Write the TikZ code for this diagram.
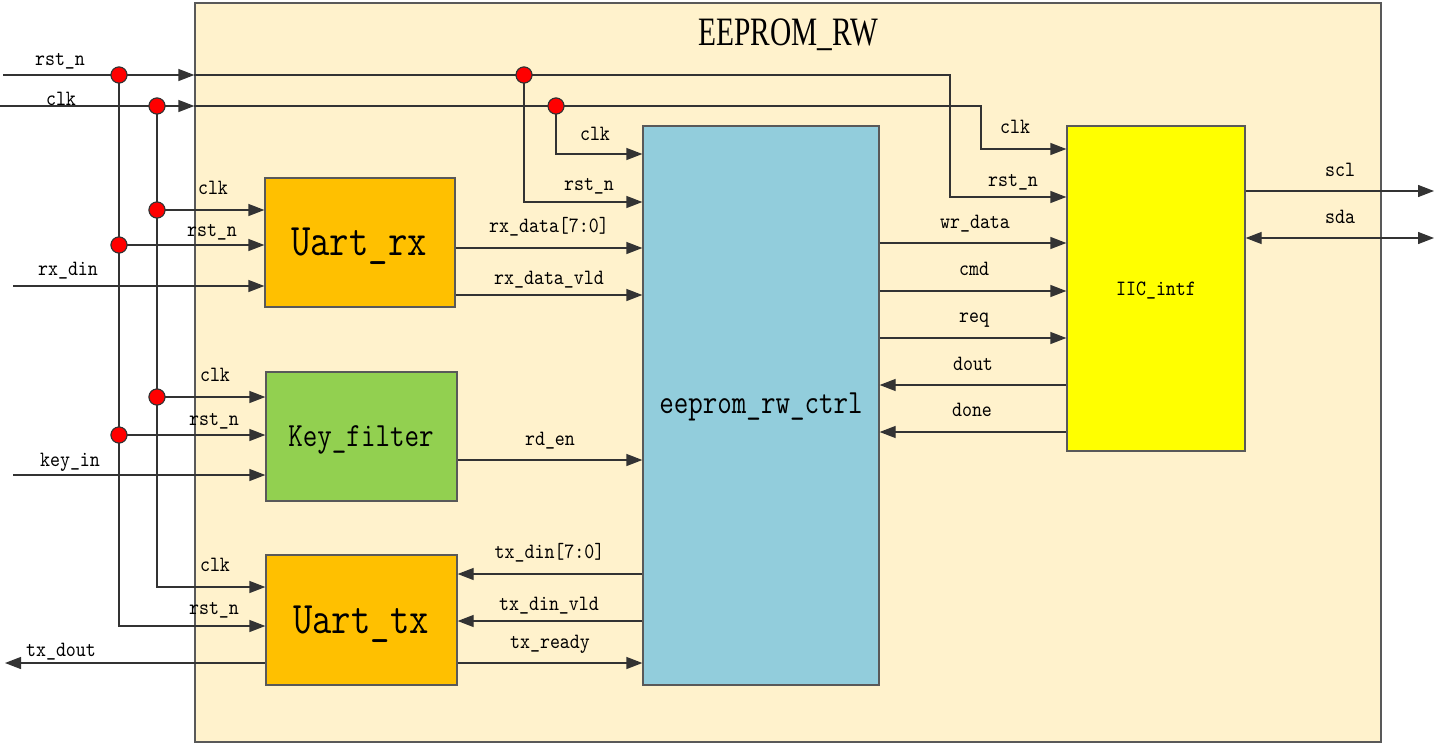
\documentclass[tikz,border=0pt]{standalone}
\usepackage{fontspec}
\newfontfamily\seriff{Liberation Serif}
\usetikzlibrary{arrows.meta}
\newcommand\vst[1]{\scalebox{1}[1.15]{#1}}
\newcommand\vsb[1]{\scalebox{1}[1.2]{#1}}
\definecolor{bgbox}{HTML}{FFF2CC}
\definecolor{uartc}{HTML}{FFC000}
\definecolor{keyc}{HTML}{92D050}
\definecolor{ctrlc}{HTML}{92CDDC}
\definecolor{iicc}{HTML}{FFFF00}
\definecolor{wire}{HTML}{333333}
\begin{document}
\begin{tikzpicture}[x=0.5pt,y=-0.5pt,
 wirest/.style={draw=wire,line width=0.65pt},
 arr/.style={wirest,-{Triangle[length=8pt,width=6pt]}},
 darr/.style={wirest,{Triangle[length=8pt,width=6pt]}-{Triangle[length=8pt,width=6pt]}},
 block/.style={draw=black!65,line width=0.65pt,inner sep=0pt,anchor=center},
 dot/.style={circle,fill=red,draw=black!80,line width=0.5pt,minimum size=8pt,inner sep=0pt},
 lbl/.style={anchor=base,inner sep=0pt,font=\ttfamily\fontsize{9.5pt}{11pt}\selectfont},
 big/.style={anchor=base,inner sep=0pt,font=\ttfamily\fontsize{18.8pt}{21pt}\selectfont},
 mid/.style={anchor=base,inner sep=0pt,font=\ttfamily\fontsize{14.1pt}{16pt}\selectfont},
]
\useasboundingbox (0,0) rectangle (1434,744);

% outer box
\node[block,fill=bgbox,minimum width=593pt,minimum height=369.5pt] (outer) at (788,372.5) {};
\node[anchor=base,inner sep=0pt,font=\seriff\fontsize{14.4pt}{16pt}\selectfont] (title) at (788,45) {\scalebox{1.02}[1.4]{EEPROM\_RW}};

% blocks
\node[block,fill=uartc,minimum width=95pt,minimum height=64.5pt] (urx) at (360,242.5) {};
\node[block,fill=keyc,minimum width=95.5pt,minimum height=64.5pt] (kf) at (361.5,436.5) {};
\node[block,fill=uartc,minimum width=95.5pt,minimum height=65pt] (utx) at (361.5,620) {};
\node[block,fill=ctrlc,minimum width=118pt,minimum height=279.5pt] (ctrl) at (761,405.5) {};
\node[block,fill=iicc,minimum width=89pt,minimum height=162.5pt] (iic) at (1156,288.5) {};

% coordinates
\coordinate (inrst) at (3,75);
\coordinate (inclk) at (0,106);
\coordinate (rxdin) at (13,286);
\coordinate (keyin) at (13,475);
\coordinate (txdout) at (5,663);
\coordinate (bendrst) at (950,75);
\coordinate (bendclk) at (981,106);
\coordinate (sclout) at (1434,191);
\coordinate (sdaout) at (1434,238);

% dots
\node[dot] (d1) at (119,75) {};
\node[dot] (d2) at (157,106) {};
\node[dot] (d3) at (524,75) {};
\node[dot] (d4) at (556,106) {};
\node[dot] (d5) at (157,210) {};
\node[dot] (d6) at (119,245) {};
\node[dot] (d7) at (157,397) {};
\node[dot] (d8) at (119,435) {};

% global rst / clk
\draw[arr] (inrst) -- (outer.west |- inrst);
\draw[arr] (outer.west |- inrst) -- (bendrst) |- (iic.west |- 0,197);
\draw[arr] (inclk) -- (outer.west |- inclk);
\draw[arr] (outer.west |- inclk) -- (bendclk) |- (iic.west |- 0,149);
\draw[arr] (d3.center) |- (ctrl.west |- 0,202);
\draw[arr] (d4.center) |- (ctrl.west |- 0,154);
\draw[arr] (d1.center) |- (utx.west |- 0,626);
\draw[arr] (d2.center) |- (utx.west |- 0,587);

% Uart_rx
\draw[arr] (d5.center) -- (urx.west |- d5);
\draw[arr] (d6.center) -- (urx.west |- d6);
\draw[arr] (rxdin) -- (urx.west |- rxdin);
\draw[arr] (urx.east |- 0,248) -- (ctrl.west |- 0,248);
\draw[arr] (urx.east |- 0,295) -- (ctrl.west |- 0,295);

% Key_filter
\draw[arr] (d7.center) -- (kf.west |- d7);
\draw[arr] (d8.center) -- (kf.west |- d8);
\draw[arr] (keyin) -- (kf.west |- keyin);
\draw[arr] (kf.east |- 0,460) -- (ctrl.west |- 0,460);

% Uart_tx
\draw[arr] (utx.west |- txdout) -- (txdout);
\draw[arr] (ctrl.west |- 0,574) -- (utx.east |- 0,574);
\draw[arr] (ctrl.west |- 0,621) -- (utx.east |- 0,621);
\draw[arr] (utx.east |- 0,663) -- (ctrl.west |- 0,663);

% ctrl <-> IIC
\draw[arr] (ctrl.east |- 0,243) -- (iic.west |- 0,243);
\draw[arr] (ctrl.east |- 0,291) -- (iic.west |- 0,291);
\draw[arr] (ctrl.east |- 0,338) -- (iic.west |- 0,338);
\draw[arr] (iic.west |- 0,385) -- (ctrl.east |- 0,385);
\draw[arr] (iic.west |- 0,432) -- (ctrl.east |- 0,432);

% IIC outputs
\draw[arr] (iic.east |- sclout) -- (sclout);
\draw[darr] (iic.east |- sdaout) -- (sdaout);

% redraw dots on top
\foreach \d in {d1,d2,d3,d4,d5,d6,d7,d8}
  \node[dot] at (\d) {};

% block texts
\node[big] (turx) at (359,255) {\vsb{Uart\_rx}};
\node[mid] (tkf) at (361,446) {\vsb{Key\_filter}};
\node[big] (tutx) at (361,633) {\vsb{Uart\_tx}};
\node[mid] (tctrl) at (761,413) {\vsb{eeprom\_rw\_ctrl}};
\node[lbl] (tiic) at (1156,295) {\vst{IIC\_intf}};

% labels
\node[lbl] (l1) at (60,65) {\vst{rst\_n}};
\node[lbl] (l2) at (61,105) {\vst{clk}};
\node[lbl] (l3) at (589,190) {\vst{rst\_n}};
\node[lbl] (l4) at (595,140.5) {\vst{clk}};
\node[lbl] (l5) at (213,194) {\vst{clk}};
\node[lbl] (l6) at (212,236) {\vst{rst\_n}};
\node[lbl] (l7) at (68,275) {\vst{rx\_din}};
\node[lbl] (l8) at (549,232.5) {\vst{rx\_data[7:0]}};
\node[lbl] (l9) at (549,284) {\vst{rx\_data\_vld}};
\node[lbl] (l10) at (215,381.5) {\vst{clk}};
\node[lbl] (l11) at (214,425) {\vst{rst\_n}};
\node[lbl] (l12) at (70,466.5) {\vst{key\_in}};
\node[lbl] (l13) at (550,445) {\vst{rd\_en}};
\node[lbl] (l14) at (215,571.5) {\vst{clk}};
\node[lbl] (l15) at (214,614) {\vst{rst\_n}};
\node[lbl] (l16) at (61,656.5) {\vst{tx\_dout}};
\node[lbl] (l17) at (549.5,558) {\vst{tx\_din[7:0]}};
\node[lbl] (l18) at (549,610) {\vst{tx\_din\_vld}};
\node[lbl] (l19) at (550,648) {\vst{tx\_ready}};
\node[lbl] (l20) at (1015,133) {\vst{clk}};
\node[lbl] (l21) at (1013,186) {\vst{rst\_n}};
\node[lbl] (l22) at (975,228) {\vst{wr\_data}};
\node[lbl] (l23) at (974,275) {\vst{cmd}};
\node[lbl] (l24) at (974,322.5) {\vst{req}};
\node[lbl] (l25) at (973,370) {\vst{dout}};
\node[lbl] (l26) at (972,416.5) {\vst{done}};
\node[lbl] (l27) at (1340,176.5) {\vst{scl}};
\node[lbl] (l28) at (1340,223) {\vst{sda}};
\end{tikzpicture}
\end{document}
